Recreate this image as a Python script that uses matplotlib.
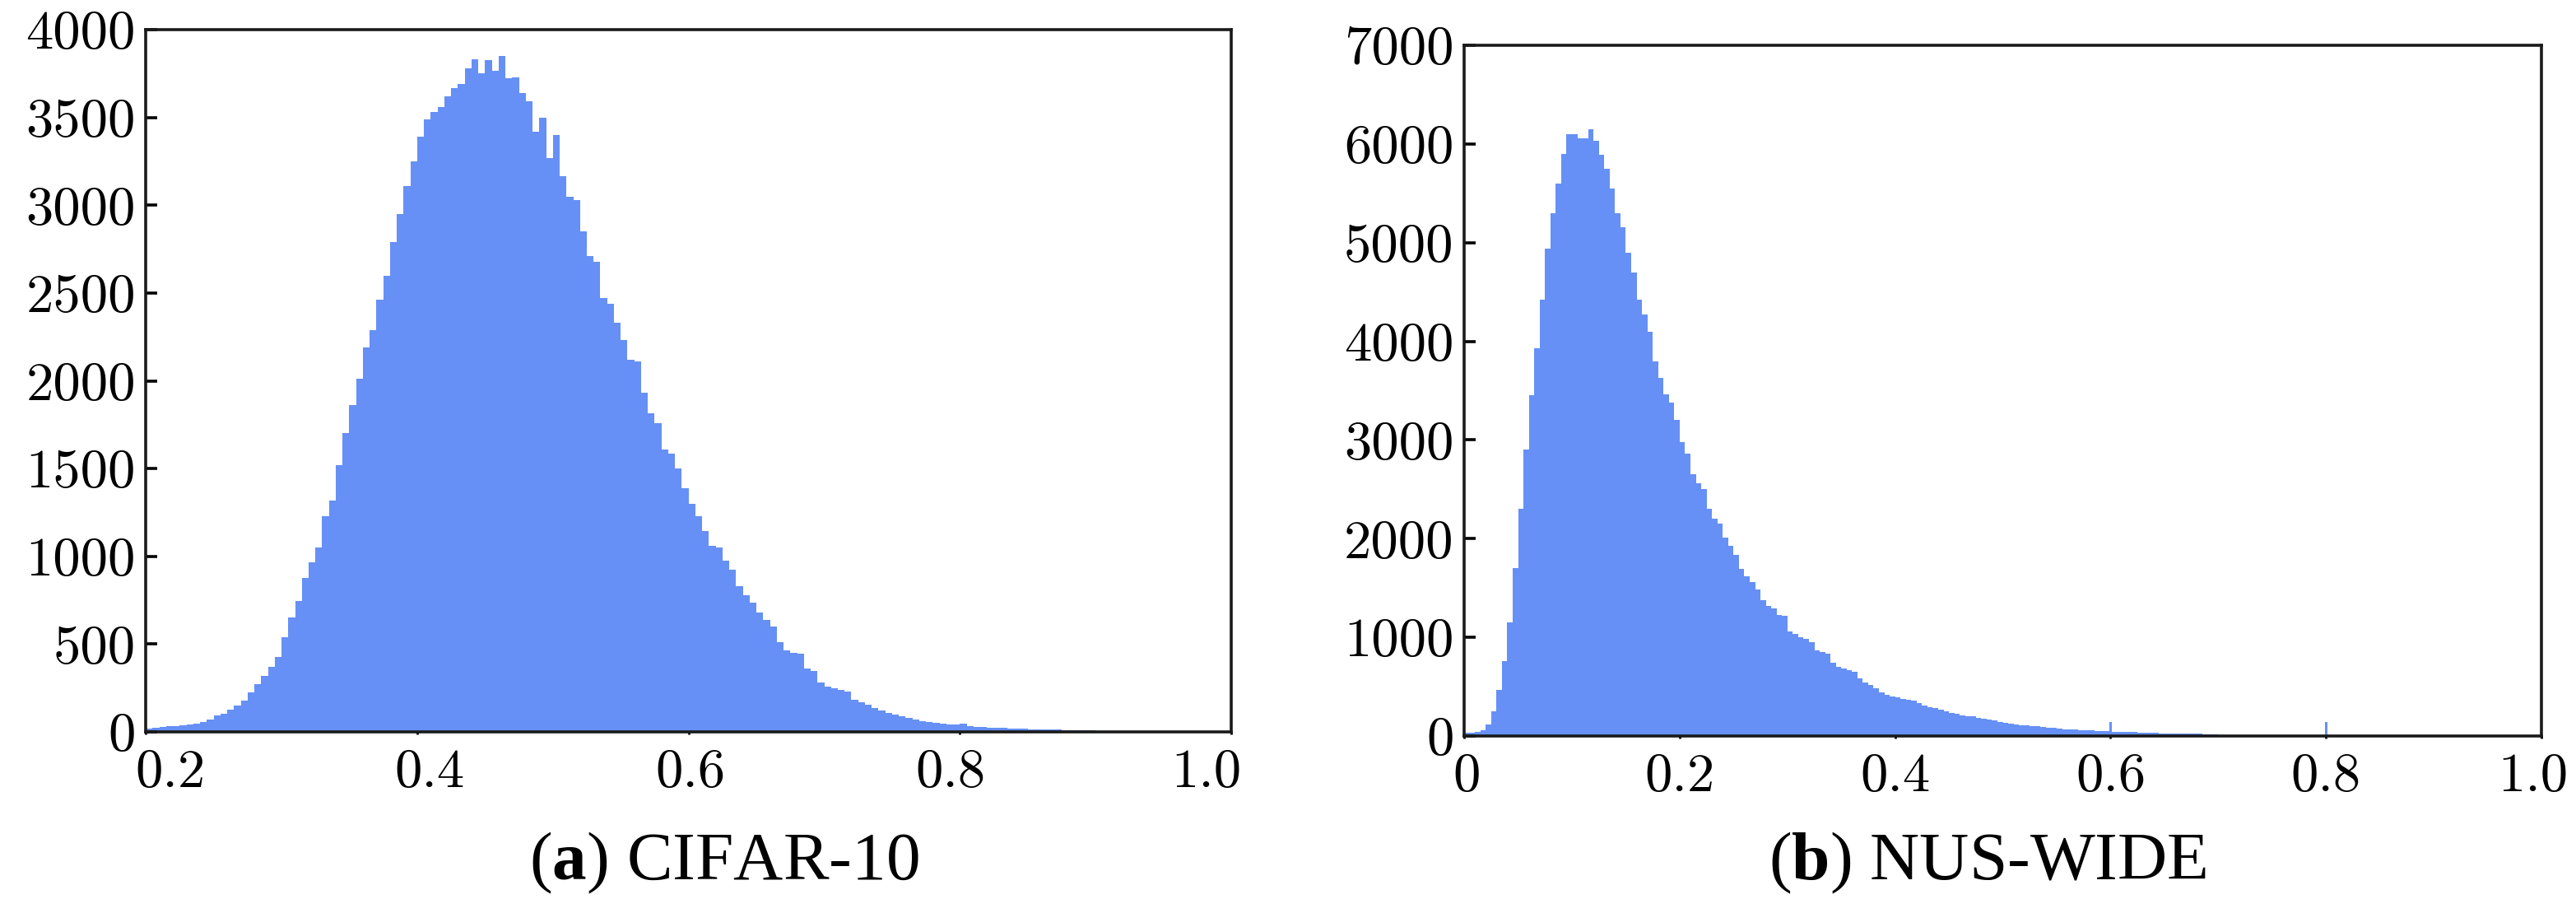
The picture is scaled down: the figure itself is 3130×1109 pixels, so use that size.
import numpy as np
import matplotlib
matplotlib.use("Agg")
import matplotlib.pyplot as plt
from matplotlib.transforms import ScaledTranslation

plt.rcParams['mathtext.fontset'] = 'custom'
plt.rcParams['mathtext.rm'] = 'Liberation Serif'
plt.rcParams['mathtext.bf'] = 'Liberation Serif:bold'

# histogram counts, bin width 0.005
cifar_start = 0.200
cifar_counts = [
    20, 24, 28, 32, 35, 38, 40, 45, 55, 70,
    92, 105, 125, 150, 180, 225, 270, 320, 370, 425,
    540, 650, 745, 875, 965, 1050, 1230, 1320, 1520, 1700,
    1860, 2010, 2190, 2290, 2460, 2600, 2790, 2950, 3110, 3250,
    3390, 3490, 3530, 3560, 3620, 3665, 3690, 3780, 3830, 3750,
    3825, 3765, 3850, 3725, 3730, 3640, 3590, 3420, 3500, 3270,
    3400, 3165, 3050, 3030, 2850, 2710, 2680, 2470, 2440, 2330,
    2230, 2120, 2110, 1930, 1815, 1760, 1610, 1585, 1500, 1390,
    1300, 1230, 1145, 1060, 1050, 975, 925, 830, 780, 735,
    680, 640, 600, 510, 465, 450, 445, 360, 345, 280,
    260, 250, 240, 230, 185, 170, 155, 135, 122, 110,
    98, 90, 80, 72, 62, 56, 50, 47, 42, 40,
    45, 33, 28, 26, 24, 22, 21, 20, 19, 18,
    16, 15, 14, 13, 12, 11, 10, 9, 8, 7,
    6, 6, 5, 5, 5, 5, 5, 5, 5, 5,
]

nus_start = 0.000
nus_counts = [
    30, 33, 38, 60, 120, 250, 470, 760, 1150, 1700,
    2300, 2900, 3450, 3930, 4420, 4940, 5300, 5600, 5900, 6100,
    6095, 6060, 6055, 6145, 6030, 5890, 5745, 5550, 5300, 5160,
    4900, 4700, 4420, 4270, 4100, 3800, 3630, 3460, 3380, 3200,
    2980, 2860, 2650, 2560, 2500, 2300, 2200, 2150, 2010, 1925,
    1835, 1690, 1620, 1560, 1485, 1380, 1320, 1290, 1230, 1215,
    1060, 1035, 1000, 985, 955, 870, 850, 835, 745, 700,
    680, 665, 650, 580, 545, 515, 480, 445, 420, 400,
    390, 378, 370, 360, 330, 310, 292, 280, 270, 248,
    235, 225, 205, 200, 200, 185, 178, 168, 155, 145,
    132, 125, 118, 112, 105, 100, 96, 92, 86, 80,
    75, 70, 66, 63, 60, 57, 54, 52, 50, 48,
    45, 44, 42, 40, 38, 36, 33, 31, 30, 28,
    27, 26, 25, 25, 24, 24, 22, 20, 18, 15,
    8, 8, 8, 8, 8, 8, 8, 8, 8, 8,
    8, 8, 8, 8, 8, 8, 8, 8, 8, 8,
    8, 8, 8, 8, 8, 8, 8, 8, 8, 8,
    8, 8, 8, 8, 8, 8, 8, 8, 8, 8,
    8, 8, 8, 8, 8, 8, 8, 8, 8, 8,
    8, 8, 8, 8, 8, 8, 8, 8, 8, 8,
]
bin_width = 0.005

# two isolated thin spikes in the NUS-WIDE tail
nus_spike_x = [0.600, 0.800]
nus_spike_h = [142, 142]

cifar_xticks = [0.2, 0.4, 0.6, 0.8, 1.0]
cifar_xticklabels = ['0.2', '0.4', '0.6', '0.8', '1.0']
cifar_yticks = [0, 500, 1000, 1500, 2000, 2500, 3000, 3500, 4000]
nus_xticks = [0, 0.2, 0.4, 0.6, 0.8, 1.0]
nus_xticklabels = ['0', '0.2', '0.4', '0.6', '0.8', '1.0']
nus_yticks = [0, 1000, 2000, 3000, 4000, 5000, 6000, 7000]

captions = [r'$\mathrm{(}\mathbf{a}\mathrm{)}$ CIFAR-10',
            r'$\mathrm{(}\mathbf{b}\mathrm{)}$ NUS-WIDE']

bar_color = '#6690F6'
tick_font = 'cmr10'


def style_axes(ax):
    for sp in ax.spines.values():
        sp.set_linewidth(2.6)
        sp.set_color('#1a1a1a')
    ax.tick_params(axis='y', direction='in', length=10, width=2.6,
                   pad=9, labelsize=48, right=False)
    ax.tick_params(axis='x', direction='out', length=2, width=2.0,
                   pad=13, labelsize=48, top=False)
    for lab in ax.get_xticklabels() + ax.get_yticklabels():
        lab.set_fontfamily(tick_font)


def nudge_xlabels(fig, ax, shifts_px):
    # the tick labels in the original sit a little off their ticks
    for lab, dx in zip(ax.get_xticklabels(), shifts_px):
        off = ScaledTranslation(dx / fig.dpi, 0, fig.dpi_scale_trans)
        lab.set_transform(lab.get_transform() + off)


fig = plt.figure(figsize=(31.30, 11.09), dpi=100)

# CIFAR-10
ax1 = fig.add_axes([0.0566, 0.1984, 0.4214, 0.7691])
edges1 = cifar_start + bin_width * np.arange(len(cifar_counts) + 1)
ax1.stairs(cifar_counts, edges1, fill=True, color=bar_color, linewidth=0)
ax1.set_xlim(0.2, 1.0)
ax1.set_ylim(0, 4000)
ax1.set_xticks(cifar_xticks)
ax1.set_xticklabels(cifar_xticklabels)
ax1.set_yticks(cifar_yticks)
ax1.set_yticklabels([str(v) for v in cifar_yticks])
style_axes(ax1)
nudge_xlabels(fig, ax1, [30, 15, 2, -11, -30])

# NUS-WIDE
ax2 = fig.add_axes([0.5684, 0.1939, 0.4182, 0.7565])
edges2 = nus_start + bin_width * np.arange(len(nus_counts) + 1)
ax2.stairs(nus_counts, edges2, fill=True, color=bar_color, linewidth=0)
ax2.bar(nus_spike_x, nus_spike_h, width=0.002, color=bar_color, linewidth=0)
ax2.set_xlim(0, 1.0)
ax2.set_ylim(0, 7000)
ax2.set_xticks(nus_xticks)
ax2.set_xticklabels(nus_xticklabels)
ax2.set_yticks(nus_yticks)
ax2.set_yticklabels([str(v) for v in nus_yticks])
style_axes(ax2)
nudge_xlabels(fig, ax2, [3, 0, 0, 0, 0, -10])

fig.text(880 / 3130, 1 - 1068 / 1109, captions[0], ha='center', va='baseline',
         fontsize=60, fontfamily='Liberation Serif')
fig.text(2415 / 3130, 1 - 1068 / 1109, captions[1], ha='center', va='baseline',
         fontsize=60, fontfamily='Liberation Serif')

fig.savefig('out.png', dpi=100, facecolor='white')
